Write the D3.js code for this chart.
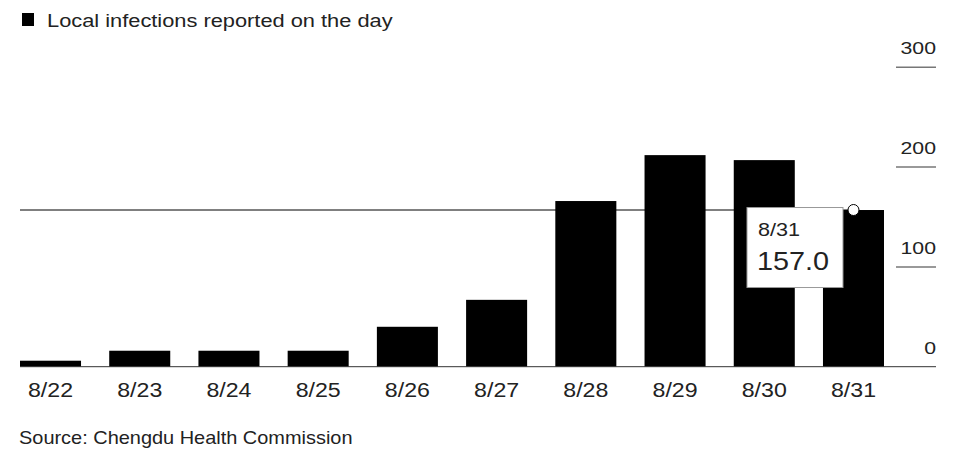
<!DOCTYPE html>
<html>
<head>
<meta charset="utf-8">
<script src="https://cdn.jsdelivr.net/npm/d3@7"></script>
<style>
  body { margin: 0; background: #fff; }
  svg { display: block; font-family: "Liberation Sans", Arial, sans-serif; }
</style>
</head>
<body>
<svg id="chart" width="975" height="473"></svg>
<script>
const days = ['8/22', '8/23', '8/24', '8/25', '8/26', '8/27', '8/28', '8/29', '8/30', '8/31']
const infections = [6, 16, 16, 16, 40, 67, 166, 212, 207, 157]
const yTicks = [0, 100, 200, 300]
const legendLabel = 'Local infections reported on the day'
const sourceLabel = 'Source: Chengdu Health Commission'
const hoverIndex = 9

const svg = d3.select('#chart')
const textColor = '#222'

// horizontally stretched text, anchored at (x, y)
function stretchText (parent, x, y, text, size, sx, anchor) {
  return parent.append('text')
    .attr('transform', `translate(${x},${y}) scale(${sx},1)`)
    .attr('text-anchor', anchor || 'start')
    .attr('font-size', size)
    .attr('fill', textColor)
    .text(text)
}

const xScale = d3.scaleBand()
  .domain(days)
  .range([20, 884])
  .paddingInner(0.316)
  .paddingOuter(0)

const yScale = d3.scaleLinear()
  .domain([0, 300])
  .range([366.7, 67.3])

// legend
svg.append('rect')
  .attr('x', 22).attr('y', 13)
  .attr('width', 12).attr('height', 13)
  .attr('fill', '#000')
stretchText(svg, 47, 27, legendLabel, 18.5, 1.18)

// y ticks on the right
const yAxis = svg.append('g').attr('class', 'y-axis')
yTicks.forEach((t) => {
  yAxis.append('line')
    .attr('x1', 896).attr('x2', 936)
    .attr('y1', yScale(t)).attr('y2', yScale(t))
    .attr('stroke', '#777')
    .attr('stroke-width', t === 0 ? 0 : 1.5)
  stretchText(yAxis, 936, yScale(t) - 13, t, 17, 1.25, 'end')
})

// bars
svg.append('g')
  .selectAll('rect')
  .data(days)
  .join('rect')
  .attr('x', (d) => xScale(d))
  .attr('y', (d, i) => yScale(infections[i]))
  .attr('width', xScale.bandwidth())
  .attr('height', (d, i) => yScale(0) - yScale(infections[i]))
  .attr('fill', '#000')

// baseline
svg.append('line')
  .attr('x1', 20).attr('x2', 936)
  .attr('y1', yScale(0)).attr('y2', yScale(0))
  .attr('stroke', '#333')
  .attr('stroke-width', 1)

// x labels
const xAxis = svg.append('g').attr('class', 'x-axis')
days.forEach((d) => {
  stretchText(xAxis, xScale(d) + xScale.bandwidth() / 2, 396.7, d, 20.5, 1.13, 'middle')
})

// hover marker
const hx = xScale(days[hoverIndex]) + xScale.bandwidth() / 2
const hy = yScale(infections[hoverIndex])
svg.append('line')
  .attr('x1', 20).attr('x2', hx)
  .attr('y1', hy).attr('y2', hy)
  .attr('stroke', '#000')
  .attr('stroke-width', 1)

const tip = svg.append('g')
  .attr('transform', `translate(${hx - 106.5},${hy - 2.5})`)
tip.append('rect')
  .attr('x', 0).attr('y', 0)
  .attr('width', 96).attr('height', 80)
  .attr('fill', '#fff')
  .attr('stroke', '#999')
  .attr('stroke-width', 1)
stretchText(tip, 11, 28, days[hoverIndex], 18, 1.2)
stretchText(tip, 10, 62, infections[hoverIndex].toFixed(1), 25.5, 1.13)

svg.append('circle')
  .attr('cx', hx).attr('cy', hy)
  .attr('r', 5.5)
  .attr('fill', '#fff')
  .attr('stroke', '#000')
  .attr('stroke-width', 1)

// source
stretchText(svg, 19, 444.3, sourceLabel, 17.5, 1.14)
</script>
</body>
</html>
